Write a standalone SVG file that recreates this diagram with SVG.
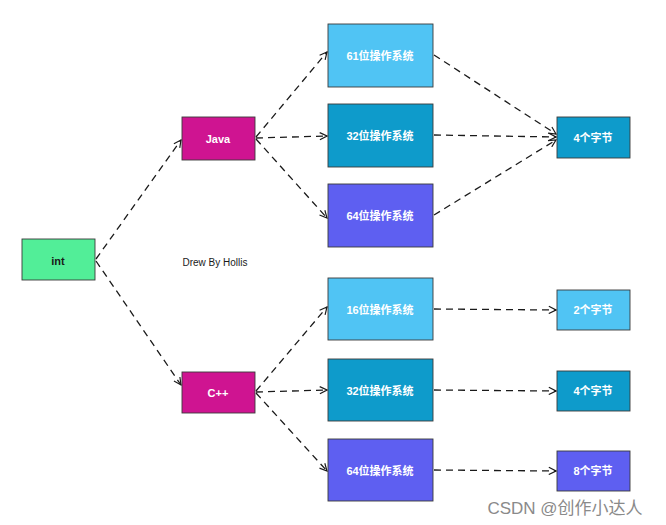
<svg xmlns="http://www.w3.org/2000/svg" width="666" height="525" viewBox="0 0 666 525">
<style>
.box{stroke:#3a3a3a;stroke-width:0.9}
.lbl{font-family:"Liberation Sans","Noto Sans CJK SC",sans-serif;font-size:11px;font-weight:bold;fill:#ffffff;text-anchor:middle;dominant-baseline:central}
.dark{fill:#1a1a1a}
.edge{fill:none;stroke:#1a1a1a;stroke-width:1.3;stroke-dasharray:7 5}
.green{fill:#52EE98}
.mag{fill:#CF1491}
.lb{fill:#50C4F4}
.mb{fill:#0E9BCB}
.pu{fill:#5E5FF1}
</style>
<defs>
<marker id="arr" viewBox="0 0 10 10" refX="9" refY="5" markerWidth="9" markerHeight="9" orient="auto" markerUnits="userSpaceOnUse">
<path d="M1,1 L9,5 L1,9" fill="none" stroke="#1a1a1a" stroke-width="1.3"/>
</marker>
</defs>
<rect width="666" height="525" fill="#ffffff"/>
<g id="connectors">
<path class="edge" d="M96,259 L181,140" marker-end="url(#arr)"/>
<path class="edge" d="M96,261 L181,385" marker-end="url(#arr)"/>
<path class="edge" d="M256,137 L327,52" marker-end="url(#arr)"/>
<path class="edge" d="M256,138 L327,136" marker-end="url(#arr)"/>
<path class="edge" d="M256,139 L327,218" marker-end="url(#arr)"/>
<path class="edge" d="M434,55 L556,134" marker-end="url(#arr)"/>
<path class="edge" d="M434,135 L556,137" marker-end="url(#arr)"/>
<path class="edge" d="M434,215 L556,140" marker-end="url(#arr)"/>
<path class="edge" d="M256,391 L327,307" marker-end="url(#arr)"/>
<path class="edge" d="M256,392 L327,390" marker-end="url(#arr)"/>
<path class="edge" d="M256,393 L327,471" marker-end="url(#arr)"/>
<path class="edge" d="M434,309 L556,310" marker-end="url(#arr)"/>
<path class="edge" d="M434,390 L556,391" marker-end="url(#arr)"/>
<path class="edge" d="M434,470 L556,471" marker-end="url(#arr)"/>
</g>
<g id="int"><rect class="box green" x="22" y="239" width="73" height="41"/><text class="lbl dark" x="58" y="261">int</text></g>
<g id="java"><rect class="box mag" x="182" y="117" width="73" height="43"/><text class="lbl" x="218" y="139">Java</text></g>
<g id="cpp"><rect class="box mag" x="182" y="372" width="73" height="41"/><text class="lbl" x="218" y="393">C++</text></g>
<g id="os61"><rect class="box lb" x="328" y="24" width="105" height="63"/><text class="lbl" x="380" y="56">61位操作系统</text></g>
<g id="os32a"><rect class="box mb" x="328" y="104" width="105" height="63"/><text class="lbl" x="380" y="136">32位操作系统</text></g>
<g id="os64a"><rect class="box pu" x="328" y="184" width="105" height="63"/><text class="lbl" x="380" y="216">64位操作系统</text></g>
<g id="os16"><rect class="box lb" x="328" y="278" width="105" height="62"/><text class="lbl" x="380" y="310">16位操作系统</text></g>
<g id="os32b"><rect class="box mb" x="328" y="359" width="105" height="62"/><text class="lbl" x="380" y="391">32位操作系统</text></g>
<g id="os64b"><rect class="box pu" x="328" y="439" width="105" height="62"/><text class="lbl" x="380" y="471">64位操作系统</text></g>
<g id="b4a"><rect class="box mb" x="557" y="117" width="73" height="41"/><text class="lbl" x="593" y="138">4个字节</text></g>
<g id="b2"><rect class="box lb" x="557" y="290" width="73" height="40"/><text class="lbl" x="593" y="310">2个字节</text></g>
<g id="b4b"><rect class="box mb" x="557" y="371" width="73" height="40"/><text class="lbl" x="593" y="391">4个字节</text></g>
<g id="b8"><rect class="box pu" x="557" y="451" width="73" height="40"/><text class="lbl" x="593" y="471">8个字节</text></g>
<text x="215" y="262" font-family="Liberation Sans, sans-serif" font-size="10" fill="#1a1a1a" text-anchor="middle" dominant-baseline="central">Drew By Hollis</text>
<text x="565" y="508" font-family="Liberation Sans, 'Noto Sans CJK SC', sans-serif" font-size="17" fill="#8a8a8a" text-anchor="middle" dominant-baseline="central">CSDN @创作小达人</text>
</svg>
